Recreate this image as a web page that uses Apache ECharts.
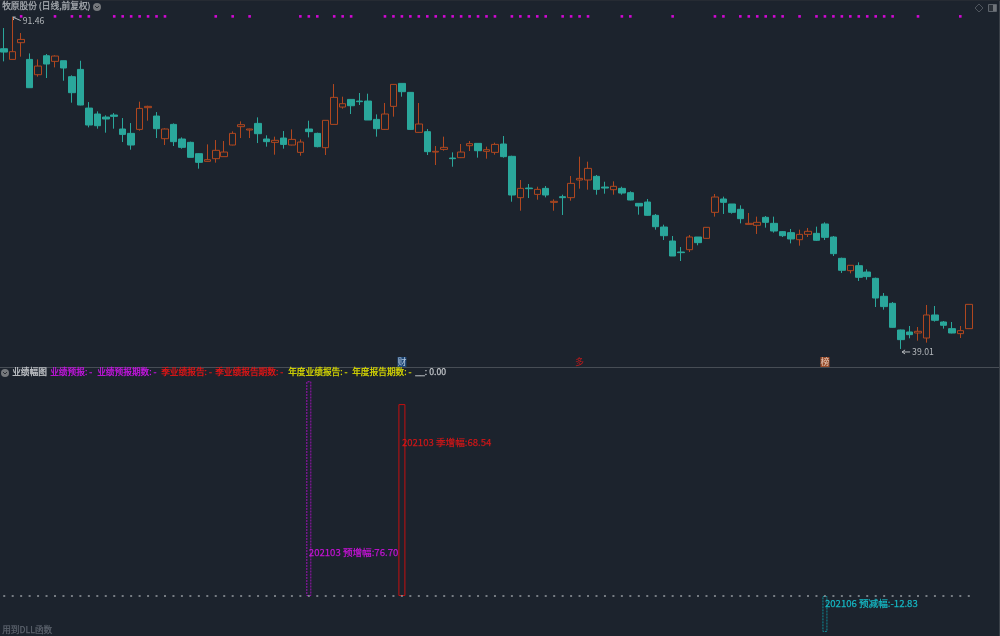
<!DOCTYPE html>
<html>
<head>
<meta charset="utf-8">
<style>html,body{margin:0;padding:0;background:#1c232d}#chart{width:1000px;height:636px}</style>
<script src="https://cdn.jsdelivr.net/npm/echarts@6/dist/echarts.min.js"></script>
</head>
<body>
<div id="chart"></div>
<script>
// Daily prices, oldest session first
const opens = [86.46,84.77,87.41,84.77,82.35,85.35,84.46,84.56,82.04,83.19,77.08,76.14,75.66,75.98,73.77,73.08,73.71,77.14,75.82,72.24,
74.50,72.19,71.66,69.87,68.66,69.08,69.40,71.24,74.14,73.61,74.66,72.19,71.66,72.34,71.24,70.08,73.77,73.08,70.82,74.50,
77.24,78.45,78.19,78.19,75.29,73.71,77.35,80.98,79.56,73.24,73.35,70.13,70.55,69.18,69.24,71.13,71.50,70.24,70.08,71.40,
69.45,62.92,64.44,63.44,64.39,62.18,63.07,62.92,65.71,65.71,66.29,64.60,64.18,64.39,63.71,62.02,62.23,60.13,58.28,56.07,
54.33,54.70,56.70,56.49,60.60,62.71,61.92,61.08,58.70,58.55,59.81,58.86,57.55,57.39,56.28,57.12,57.28,58.76,56.70,53.33,
51.38,52.17,51.17,50.17,47.33,46.22,42.01,41.69,41.53,40.74,44.38,43.27,42.22,41.43,42.22];
const closes = [85.93,85.99,87.93,80.30,83.72,84.04,85.30,83.41,79.51,77.56,74.40,74.29,75.35,75.77,72.92,71.24,77.03,77.35,73.82,73.77,
71.77,70.87,69.29,68.50,68.92,70.40,70.13,73.08,74.45,73.77,73.03,71.77,71.98,71.34,72.13,71.71,73.35,70.98,75.14,78.77,
77.77,77.45,78.09,75.19,73.82,76.14,80.82,79.67,73.71,74.56,70.19,70.24,70.87,69.08,70.13,71.45,70.34,70.50,71.34,69.40,
63.34,64.39,64.34,64.23,63.34,62.34,62.92,65.18,65.97,67.55,64.23,64.44,64.71,63.65,62.55,61.60,60.13,58.33,56.91,53.70,
54.23,56.70,55.81,58.23,63.02,62.18,60.60,59.60,58.86,59.02,59.02,57.65,56.91,56.39,57.12,57.60,56.18,56.65,54.07,51.44,
52.23,50.33,50.44,47.06,45.70,42.43,40.48,41.27,41.80,44.38,43.54,42.75,41.53,41.90,46.06];
const lows = [84.46,84.77,85.20,80.30,82.04,81.83,83.51,81.40,77.93,77.51,74.03,73.82,73.19,73.82,71.71,70.50,73.50,75.08,72.34,71.24,
71.08,70.66,69.29,67.50,68.61,68.45,69.40,71.19,72.34,72.34,71.55,70.98,69.71,70.66,71.19,69.55,72.45,70.87,69.66,74.50,
76.98,76.14,77.56,75.19,72.56,73.61,75.72,78.88,73.61,73.19,69.66,68.08,70.34,67.81,69.18,70.29,69.24,69.08,69.71,69.24,
62.28,60.86,62.86,62.60,62.97,60.86,60.18,62.44,64.34,64.18,63.39,63.55,63.39,63.39,62.50,60.23,60.07,57.86,56.23,53.70,
52.91,54.33,55.39,56.44,59.92,60.34,60.39,58.86,58.65,57.18,58.18,57.39,56.70,55.70,55.33,56.70,56.07,56.23,53.70,51.02,
50.96,49.75,49.96,45.64,45.22,42.38,39.01,40.69,40.32,40.01,43.33,42.22,41.48,40.74,42.22];
const highs = [89.73,91.46,88.94,85.72,84.77,85.62,85.41,84.56,82.25,84.56,78.03,76.56,75.93,76.29,75.50,74.71,78.09,77.45,76.45,73.87,
74.66,72.45,71.77,69.92,71.34,72.03,71.87,73.40,74.98,73.82,75.61,72.77,72.56,73.45,73.71,72.13,75.08,73.19,75.14,80.88,
78.88,78.45,79.46,79.35,76.08,77.88,80.82,80.98,79.61,77.88,73.77,71.08,72.56,70.08,71.40,71.87,71.50,70.98,71.61,72.66,
69.55,65.71,65.08,64.65,64.76,62.65,63.39,66.34,69.40,68.61,66.50,65.44,65.50,64.65,63.92,62.02,62.71,60.34,58.65,56.86,
55.12,57.02,56.70,58.28,63.50,63.08,61.92,61.71,60.50,59.92,60.02,59.92,57.65,57.97,57.86,58.13,58.34,59.02,56.86,53.44,
52.23,52.70,51.59,50.28,47.85,46.43,42.06,42.64,42.48,45.96,45.80,43.43,43.27,42.64,46.06];

// Sessions flagged by the signal row along the top of the price panel
const signalSessions = [2,6,8,9,10,13,14,15,16,17,18,19,25,27,29,35,36,37,39,40,41,45,46,47,48,49,50,51,52,53,54,55,56,57,58,
60,61,62,63,64,66,67,68,69,73,74,79,84,85,87,88,89,90,91,92,94,96,97,98,99,100,101,102,103,104,105,108,113];
const signalLevel = 91.57;

// Price extremes called out on the chart
const priceHigh = [1, 91.46];
const priceLow = [106, 39.01];

// Event tags along the foot of the price panel
const eventTags = [
  {session: 47, text: '财', bg: '#1f4f86', fg: '#cfe0f2'},
  {session: 68, text: '多', bg: 'transparent', fg: '#e01818'},
  {session: 97, text: '榜', bg: '#b8562a', fg: '#f4e4d8'}
];
const eventLevel = 36.95;

// Earnings change panel, percent
const forecastRise = [[36, 76.70]];
const quarterGrowth = [[47, 68.54]];
const forecastFall = [[97, -12.83]];
const growthNotes = [
  {session: 36, at: 15.7, text: '202103 预增幅:76.70', color: '#e010f0'},
  {session: 47, at: 55, text: '202103 季增幅:68.54', color: '#ee1414'},
  {session: 97, at: -2.6, text: '202106 预减幅:-12.83', color: '#14d0dc'}
];

const titleText = '牧原股份 (日线,前复权)';
const panelName = '业绩幅图';
const legendItems = [
  ['业绩预报: -', '#cc14e8'], ['业绩预报期数: -', '#cc14e8'],
  ['季业绩报告: -', '#ea1414'], ['季业绩报告期数: -', '#ea1414'],
  ['年度业绩报告: -', '#dada00'], ['年度报告期数: -', '#dada00'],
  ['__: 0.00', '#c0c4c8']
];
const legendLeft = [50, 97, 161, 215, 288, 352, 415];
const footerText = '用到DLL函数';

const sessions = opens.map((_, i) => i);
const FONT = '"Noto Sans CJK SC","Noto Sans",sans-serif';
const UP = '#b0471f', DOWN = '#2aa79b';
const BG = '#1c232d';

function hiddenX(gridIndex) {
  return {type: 'category', data: sessions, gridIndex, show: false, boundaryGap: true};
}

// Small header text with a hairline outline so the thin glyphs keep their colour
function text(x, y, str, fill, size) {
  return {type: 'text', left: x, top: y - 6, silent: true, z: 50,
    style: {text: str, fill, stroke: fill, lineWidth: 0.25, font: (size || 8.7) + 'px ' + FONT}};
}

function chevronBadge(cx, cy) {
  return {type: 'group', silent: true, z: 50, children: [
    {type: 'circle', shape: {cx, cy, r: 4}, style: {fill: '#75787c'}},
    {type: 'polyline', shape: {points: [[cx - 2, cy - 1], [cx, cy + 1], [cx + 2, cy - 1]]},
      style: {stroke: '#2a2e34', lineWidth: 1, fill: null}}
  ]};
}

// Arrow and value text pinned to a price extreme through the axis scales
function renderExtreme(params, api) {
  const p = api.coord([api.value(0), api.value(1)]);
  const isHigh = api.value(2) === 1;
  const ink = '#b4b8bc';
  const tip = isHigh ? [p[0], p[1]] : [p[0] + 1, p[1] + 3];
  const tail = isHigh ? [p[0] + 8, p[1] + 3.5] : [p[0] + 9, p[1] + 3];
  const textY = isHigh ? p[1] + 4 : p[1] + 3;
  return {type: 'group', children: [
    {type: 'polyline', shape: {points: [tail, tip]}, style: {stroke: ink, lineWidth: 1, fill: null}},
    {type: 'polyline',
      shape: {points: isHigh
        ? [[tip[0] + 3, tip[1]], tip, [tip[0] + 1, tip[1] + 3]]
        : [[tip[0] + 3, tip[1] - 2], tip, [tip[0] + 3, tip[1] + 2]]},
      style: {stroke: ink, lineWidth: 1, fill: null}},
    {type: 'text', x: tail[0] + 2, y: textY,
      style: {text: api.value(1).toFixed(2), fill: ink, font: '8.7px ' + FONT,
        textAlign: 'left', textVerticalAlign: 'middle'}}
  ]};
}

const chrome = [
  text(2, 7, titleText, '#a9adb2'),
  chevronBadge(97, 7),
  chevronBadge(5, 373),
  text(12, 373, panelName, '#c9ccd0'),
  text(2, 631, footerText, '#5a616b'),
  {type: 'polygon', silent: true, z: 50, shape: {points: [[979, 4], [983, 8], [979, 12], [975, 8]]},
    style: {stroke: '#4e545c', lineWidth: 1, fill: null}},
  {type: 'rect', silent: true, z: 50, shape: {x: 988.5, y: 4.5, width: 8, height: 7},
    style: {stroke: '#5e646c', lineWidth: 1, fill: '#2a3038'}},
  {type: 'rect', silent: true, z: 50, shape: {x: 993, y: 5, width: 3, height: 6},
    style: {fill: '#70747a'}},
  {type: 'line', silent: true, z: 40, shape: {x1: 0, y1: 367.5, x2: 1000, y2: 367.5},
    style: {stroke: '#474d55', lineWidth: 1}},
  {type: 'line', silent: true, z: 40, shape: {x1: 999.5, y1: 0, x2: 999.5, y2: 636},
    style: {stroke: '#3a4048', lineWidth: 1}},
  {type: 'line', silent: true, z: 40, shape: {x1: 0, y1: 0.5, x2: 1000, y2: 0.5},
    style: {stroke: '#262b33', lineWidth: 1}}
].concat(legendItems.map((item, i) => text(legendLeft[i], 373, item[0], item[1])));

const chart = echarts.init(document.getElementById('chart'), null, {renderer: 'canvas'});
chart.setOption({
  backgroundColor: BG,
  animation: false,
  grid: [
    {left: -1, top: 1, width: 974, height: 367},
    {left: -1, top: 372, width: 974, height: 263.2}
  ],
  xAxis: [hiddenX(0), hiddenX(1), hiddenX(1)],
  yAxis: [
    {type: 'value', gridIndex: 0, min: 36, max: 94, show: false},
    {type: 'value', gridIndex: 1, min: -14, max: 80, show: false}
  ],
  graphic: chrome,
  series: [
    {
      type: 'candlestick', xAxisIndex: 0, yAxisIndex: 0, barWidth: 7,
      data: sessions.map(i => [opens[i], closes[i], lows[i], highs[i]]),
      itemStyle: {color: 'transparent', color0: DOWN, borderColor: UP, borderColor0: DOWN, borderWidth: 1}
    },
    {
      type: 'scatter', xAxisIndex: 0, yAxisIndex: 0, symbol: 'rect', symbolSize: 2.6,
      data: signalSessions.map(i => [i, signalLevel]),
      itemStyle: {color: '#ff00ff'}
    },
    {
      type: 'custom', xAxisIndex: 0, yAxisIndex: 0, clip: false,
      data: [[priceHigh[0], priceHigh[1], 1], [priceLow[0], priceLow[1], 0]],
      renderItem: renderExtreme
    },
    {
      type: 'scatter', xAxisIndex: 0, yAxisIndex: 0, symbolSize: 0,
      data: eventTags.map(t => ({
        value: [t.session, eventLevel],
        label: {show: true, position: 'inside', formatter: t.text, color: t.fg,
          backgroundColor: t.bg, fontSize: 9, fontFamily: FONT, padding: [1, 0, 0, 0], lineHeight: 9}
      }))
    },
    {
      type: 'bar', xAxisIndex: 1, yAxisIndex: 1, barWidth: 5, barGap: '-100%',
      data: forecastRise,
      itemStyle: {color: 'transparent', borderColor: '#a012b8', borderWidth: 1, borderType: [2, 1]}
    },
    {
      type: 'bar', xAxisIndex: 2, yAxisIndex: 1, barWidth: 7,
      data: quarterGrowth,
      itemStyle: {color: 'transparent', borderColor: '#c41010', borderWidth: 1}
    },
    {
      type: 'bar', xAxisIndex: 1, yAxisIndex: 1, barWidth: 5, barGap: '-100%',
      data: forecastFall,
      itemStyle: {color: 'transparent', borderColor: '#0f8c96', borderWidth: 1, borderType: [2, 1]}
    },
    {
      type: 'scatter', xAxisIndex: 1, yAxisIndex: 1, symbol: 'rect', symbolSize: 2,
      data: sessions.map(i => [i, 0]),
      itemStyle: {color: '#8d9298'}
    },
    {
      type: 'scatter', xAxisIndex: 1, yAxisIndex: 1, symbolSize: 0,
      data: growthNotes.map(n => ({
        value: [n.session, n.at],
        label: {show: true, position: 'right', distance: 0, formatter: n.text, color: n.color,
          textBorderColor: n.color, textBorderWidth: 0.25,
          fontSize: 9.6, fontFamily: FONT}
      }))
    }
  ]
});
</script>
</body>
</html>
